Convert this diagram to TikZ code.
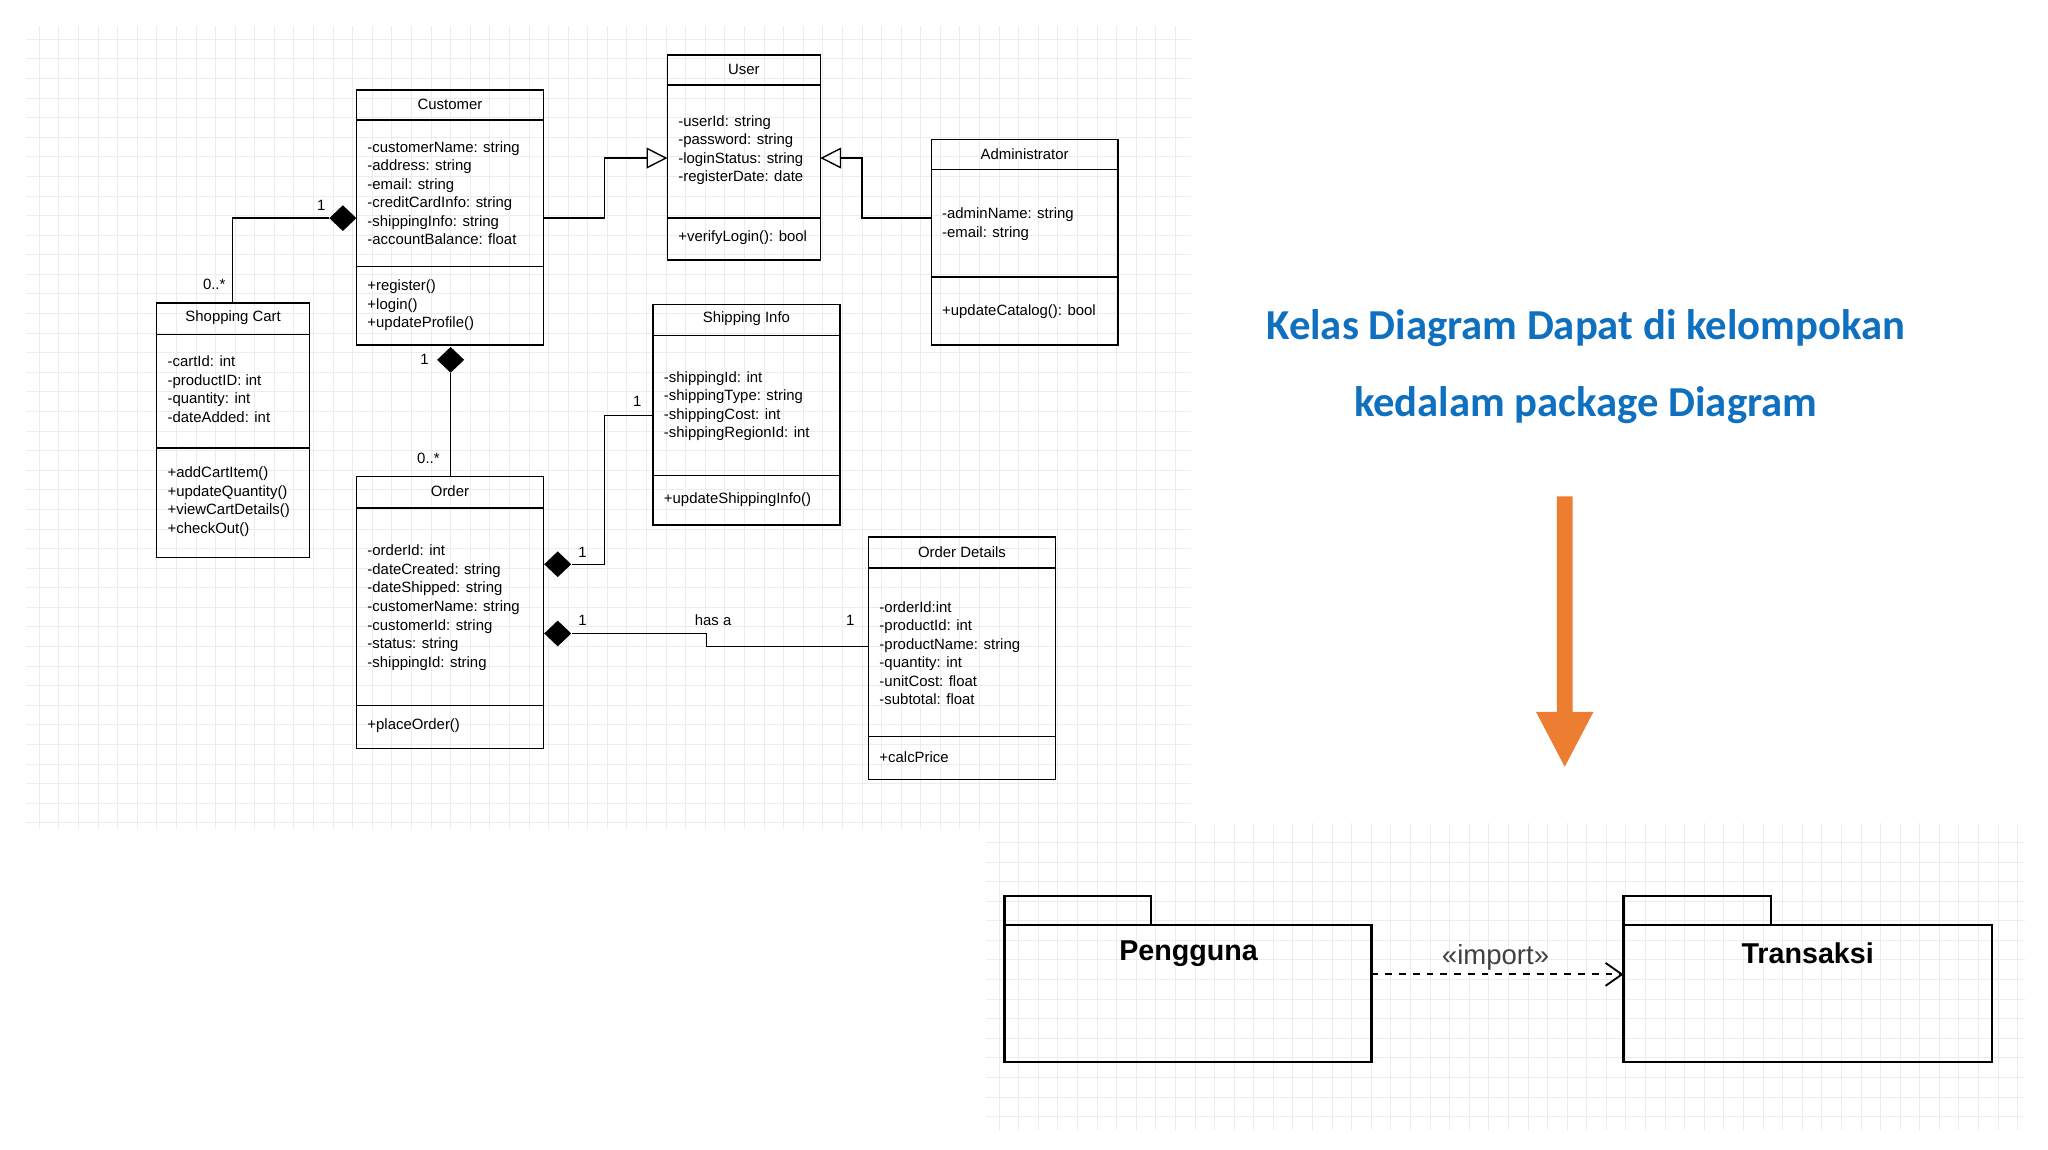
\documentclass[tikz,border=0pt]{standalone}
\usepackage{fontspec}
\setmainfont{Liberation Sans}
\newfontfamily\titlefont{Carlito}
\usetikzlibrary{arrows.meta,shapes.geometric,positioning}
\definecolor{gridgray}{RGB}{236,236,236}
\definecolor{titleblue}{RGB}{16,112,192}
\definecolor{arroworange}{RGB}{237,125,49}
\tikzset{
 box/.style={draw, line width=0.6pt},
 txt/.style={font=\fontsize{6.5}{8.07}\selectfont, align=left, inner sep=0pt},
 ttl/.style={font=\fontsize{6.5}{8}\selectfont, inner sep=0pt},
 comp/.style={shape=diamond, fill=black, inner sep=0pt, minimum width=0.42cm, minimum height=0.4cm},
 link/.style={line width=0.6pt},
 gen/.style={line width=0.6pt, -{Triangle[open, length=0.32cm, width=0.32cm]}},
 mult/.style={font=\fontsize{6.5}{8}\selectfont, inner sep=0pt},
 heading/.style={font=\titlefont\bfseries\fontsize{18.6}{22}\selectfont, text=titleblue}
}
\begin{document}
\begin{tikzpicture}[x=0.02cm,y=-0.02cm]
 \useasboundingbox (0,0) rectangle (1568,880);
 % grids
 \draw[gridgray, line width=0.3pt, step=0.3cm] (20,20) grid (912,635);
 \draw[gridgray, line width=0.3pt, step=0.3cm] (755,630) grid (1550,865);

 % Customer
 \draw[box] (273,69) rectangle (416,264);
 \draw[box] (273,92) -- (416,92) (273,204) -- (416,204);
 \node[ttl] (customer) at (344.5,80) {Customer};
 \node[txt, anchor=north west] (customerattr) at (281,108) {-customerName: string\\-address: string\\-email: string\\-creditCardInfo: string\\-shippingInfo: string\\-accountBalance: float};
 \node[txt, anchor=north west] (customermeth) at (281,214) {+register()\\+login()\\+updateProfile()};

 % User
 \draw[box] (511,42) rectangle (628,199);
 \draw[box] (511,65) -- (628,65) (511,167) -- (628,167);
 \node[ttl] (user) at (569.5,53) {User};
 \node[txt, anchor=north west] (userattr) at (519,88) {-userId: string\\-password: string\\-loginStatus: string\\-registerDate: date};
 \node[txt, anchor=north west] (usermeth) at (519,176) {+verifyLogin(): bool};

 % Administrator
 \draw[box] (713,107) rectangle (856,264);
 \draw[box] (713,130) -- (856,130) (713,212) -- (856,212);
 \node[ttl] (admin) at (784.5,118) {Administrator};
 \node[txt, anchor=north west] (adminattr) at (721,159) {-adminName: string\\-email: string};
 \node[txt, anchor=north west] (adminmeth) at (721,233) {+updateCatalog(): bool};

 % Shopping Cart
 \draw[box] (120,232) rectangle (237,427);
 \draw[box] (120,256) -- (237,256) (120,343) -- (237,343);
 \node[ttl] (cart) at (178.5,243) {Shopping Cart};
 \node[txt, anchor=north west] (cartattr) at (128,272) {-cartId: int\\-productID: int\\-quantity: int\\-dateAdded: int};
 \node[txt, anchor=north west] (cartmeth) at (128,357) {+addCartItem()\\+updateQuantity()\\+viewCartDetails()\\+checkOut()};

 % Shipping Info
 \draw[box] (500,233) rectangle (643,402);
 \draw[box] (500,257) -- (643,257) (500,364) -- (643,364);
 \node[ttl] (shipping) at (571.5,244) {Shipping Info};
 \node[txt, anchor=north west] (shippingattr) at (508,284) {-shippingId: int\\-shippingType: string\\-shippingCost: int\\-shippingRegionId: int};
 \node[txt, anchor=north west] (shippingmeth) at (508,377) {+updateShippingInfo()};

 % Order
 \draw[box] (273,365) rectangle (416,573);
 \draw[box] (273,389) -- (416,389) (273,540) -- (416,540);
 \node[ttl] (order) at (344.5,376) {Order};
 \node[txt, anchor=north west] (orderattr) at (281,417) {-orderId: int\\-dateCreated: string\\-dateShipped: string\\-customerName: string\\-customerId: string\\-status: string\\-shippingId: string};
 \node[txt, anchor=north west] (ordermeth) at (281,550) {+placeOrder()};

 % Order Details
 \draw[box] (665,411) rectangle (808,597);
 \draw[box] (665,435) -- (808,435) (665,564) -- (808,564);
 \node[ttl] (details) at (736.5,423) {Order Details};
 \node[txt, anchor=north west] (detailsattr) at (673,460) {-orderId:int\\-productId: int\\-productName: string\\-quantity: int\\-unitCost: float\\-subtotal: float};
 \node[txt, anchor=north west] (detailsmeth) at (673,575) {+calcPrice};

 % generalisations
 \coordinate (custR) at (416,167);
 \coordinate (userL) at (511,121);
 \coordinate (adminL) at (713,167);
 \coordinate (userR) at (628,121);
 \draw[gen] (custR) -- (463,167) |- (userL);
 \draw[gen] (adminL) -- (660,167) |- (userR);

 % compositions
 \node[comp] (dCart) at (262.5,167) {};
 \coordinate (cartT) at (178,232);
 \draw[link] (dCart.west) -| (cartT);
 \node[mult] (m1) at (246,157) {1};
 \node[mult] (m2) at (164,218) {0..*};

 \node[comp] (dOrder) at (345,275.5) {};
 \coordinate (orderT) at (345,365);
 \draw[link] (dOrder.south) -- (orderT);
 \node[mult] (m3) at (325,275) {1};
 \node[mult] (m4) at (328,351) {0..*};

 \node[comp] (dShip) at (427,432) {};
 \coordinate (shipL) at (500,318);
 \draw[link] (dShip.east) -- (463,432) |- (shipL);
 \node[mult] (m5) at (446,423) {1};
 \node[mult] (m6) at (488,307) {1};

 \node[comp] (dDetails) at (427,485) {};
 \coordinate (detailsL) at (665,495);
 \draw[link] (dDetails.east) -- (541,485) |- (detailsL);
 \node[mult] (m7) at (446,475) {1};
 \node[mult] (hasa) at (546,475) {has a};
 \node[mult] (m8) at (651,475) {1};

 % heading and arrow
 \node[heading] (head1) at (1214,251) {Kelas Diagram Dapat di kelompokan};
 \node[heading] (head2) at (1214,310) {kedalam package Diagram};
 \fill[arroworange] (1192,380) -- (1204,380) -- (1204,545) -- (1220,545) -- (1198,587) -- (1176,545) -- (1192,545) -- cycle;

 % packages
 \draw[box, line width=1pt] (769,686) rectangle (881,708);
 \draw[box, line width=1pt] (769,708) rectangle (1050,813);
 \node[font=\bfseries\fontsize{12.5}{14}\selectfont] (pengguna) at (910,730) {Pengguna};
 \draw[box, line width=1pt] (1243,686) rectangle (1356,708);
 \draw[box, line width=1pt] (1243,708) rectangle (1525,813);
 \node[font=\bfseries\fontsize{12.5}{14}\selectfont] (transaksi) at (1384,730) {Transaksi};
 \coordinate (pgR) at (1050,746);
 \coordinate (trL) at (1243,746);
 \draw[line width=0.8pt, dashed, -{Straight Barb[length=0.25cm, width=0.35cm]}] (pgR) -- (trL);
 \node[font=\fontsize{12}{14}\selectfont, text=black!75] (import) at (1145,733) {«import»};
\end{tikzpicture}
\end{document}
